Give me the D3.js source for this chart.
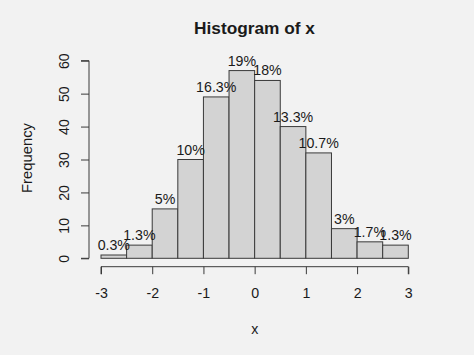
<!DOCTYPE html>
<html><head><meta charset="utf-8">
<script src="https://cdn.jsdelivr.net/npm/d3@7"></script>
<style>body{margin:0;background:#f2f2f2}svg{display:block}text{font-family:"Liberation Sans",Arial,sans-serif;fill:#1a1a1a}</style>
</head><body><svg id="c" width="474" height="355"></svg>
<script>
const binEdges = [-3,-2.5,-2,-1.5,-1,-0.5,0,0.5,1,1.5,2,2.5,3];
const counts = [1,4,15,30,49,57,54,40,32,9,5,4];
const pctLabels = ["0.3%","1.3%","5%","10%","16.3%","19%","18%","13.3%","10.7%","3%","1.7%","1.3%"];
const xTicks = [-3,-2,-1,0,1,2,3];
const yTicks = [0,10,20,30,40,50,60];

const FS = 14.2;
const svg = d3.select("#c");
svg.append("rect").attr("width",474).attr("height",355).attr("fill","#f2f2f2");
const x = d3.scaleLinear().domain([-3,3]).range([101,408.3]);
const y = d3.scaleLinear().domain([0,60]).range([258.3,60.7]);
const bins = counts.map((c,i)=>({x0:binEdges[i],x1:binEdges[i+1],c,l:pctLabels[i]}));

svg.selectAll("rect.bar").data(bins).join("rect").attr("class","bar")
  .attr("x",d=>x(d.x0)).attr("width",d=>x(d.x1)-x(d.x0))
  .attr("y",d=>y(d.c)).attr("height",d=>y(0)-y(d.c))
  .attr("fill","#d3d3d3").attr("stroke","#3a3a3a").attr("stroke-width",1);

svg.selectAll("text.lab").data(bins).join("text").attr("class","lab")
  .attr("x",d=>(x(d.x0)+x(d.x1))/2).attr("y",d=>y(d.c)-5)
  .attr("text-anchor","middle").attr("font-size",FS).text(d=>d.l);

const xa = svg.append("g").attr("transform","translate(0,266.7)")
  .call(d3.axisBottom(x).tickValues(xTicks).tickSize(7.5).tickPadding(0).tickFormat(d=>String(d)));
xa.select(".domain").attr("stroke","#3a3a3a").attr("d",`M${x(-3)},7.5V0H${x(3)}V7.5`);
xa.selectAll(".tick line").attr("stroke","#3a3a3a");
xa.selectAll(".tick text").attr("font-size",FS).attr("fill","#1a1a1a")
  .attr("font-family","Liberation Sans, Arial, sans-serif")
  .attr("y",26.6).attr("dy","0.35em");

const ya = svg.append("g").attr("transform","translate(89,0)")
  .call(d3.axisLeft(y).tickValues(yTicks).tickSize(8).tickPadding(0).tickFormat(d=>String(d)));
ya.select(".domain").attr("stroke","#3a3a3a").attr("d",`M-8,${y(0)}H0V${y(60)}H-8`);
ya.selectAll(".tick line").attr("stroke","#3a3a3a");
ya.selectAll(".tick text").attr("font-size",FS).attr("fill","#1a1a1a")
  .attr("font-family","Liberation Sans, Arial, sans-serif")
  .attr("text-anchor","middle").attr("x",0).attr("y",0).attr("dy","0.35em")
  .attr("transform","translate(-24.5,0) rotate(-90)");

svg.append("text").attr("x",254.5).attr("y",33.5).attr("text-anchor","middle")
  .attr("font-size",17.3).attr("font-weight","bold").text("Histogram of x");
svg.append("text").attr("x",254.7).attr("y",333.5).attr("text-anchor","middle")
  .attr("font-size",FS).text("x");
svg.append("text").attr("transform","translate(31.5,158) rotate(-90)").attr("text-anchor","middle")
  .attr("font-size",14.8).text("Frequency");
</script></body></html>
